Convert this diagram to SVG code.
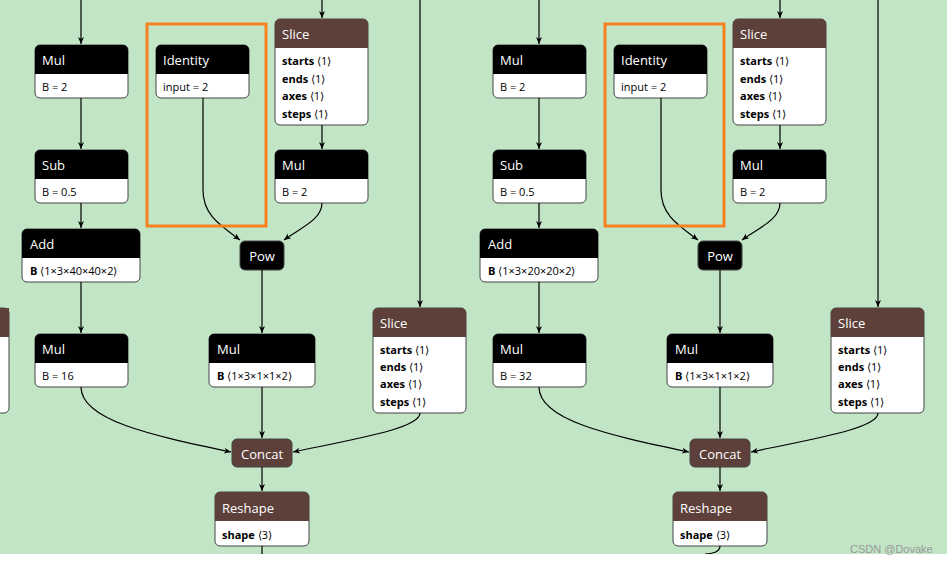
<svg xmlns="http://www.w3.org/2000/svg" width="947" height="563" viewBox="0 0 947 563">
<style>
.hd{fill:#000}.br{fill:#5c4039}.bd{fill:#fff;stroke:#444;stroke-width:1}
.t{font-family:"Segoe UI","Open Sans","Liberation Sans",sans-serif;font-size:13px;fill:#fff}
.a{font-family:"Segoe UI","Open Sans","Liberation Sans",sans-serif;font-size:11px;fill:#000}
.b{font-weight:bold}
.e{fill:none;stroke:#000;stroke-width:1.2;marker-end:url(#ar)}
.o{fill:none;stroke:#f5821f;stroke-width:3}
</style>
<defs>
<marker id="ar" markerWidth="8" markerHeight="8" refX="7" refY="4" orient="auto" markerUnits="userSpaceOnUse"><path d="M0,1 L7,4 L0,7 L2,4 Z" fill="#000"/></marker>
<g id="half">
<g id="mul1"><rect x="35" y="45" width="93" height="53" rx="5" class="bd"/><path d="M35,74V50a5,5 0 0 1 5,-5h83a5,5 0 0 1 5,5v24z" class="hd"/><text x="42" y="65" class="t">Mul</text><text x="42" y="91" class="a">B = 2</text></g>
<g id="sub"><rect x="35" y="150" width="93" height="53" rx="5" class="bd"/><path d="M35,179V155a5,5 0 0 1 5,-5h83a5,5 0 0 1 5,5v24z" class="hd"/><text x="42" y="170" class="t">Sub</text><text x="42" y="196" class="a">B = 0.5</text></g>
<g id="add"><rect x="22" y="229" width="118" height="53" rx="5" class="bd"/><path d="M22,258V234a5,5 0 0 1 5,-5h108a5,5 0 0 1 5,5v24z" class="hd"/><text x="30" y="249" class="t">Add</text></g>
<g id="mul3"><rect x="35" y="334" width="93" height="53" rx="5" class="bd"/><path d="M35,363V339a5,5 0 0 1 5,-5h83a5,5 0 0 1 5,5v24z" class="hd"/><text x="42" y="354" class="t">Mul</text></g>
<g id="ident"><rect x="156" y="45" width="93" height="53" rx="5" class="bd"/><path d="M156,74V50a5,5 0 0 1 5,-5h83a5,5 0 0 1 5,5v24z" class="hd"/><text x="163" y="65" class="t">Identity</text><text x="163" y="91" class="a" fill="#333">input = 2</text></g>
<g id="slice1"><rect x="275" y="19" width="93" height="106" rx="5" class="bd"/><path d="M275,48V24a5,5 0 0 1 5,-5h83a5,5 0 0 1 5,5v24z" class="br"/><text x="282" y="39" class="t">Slice</text>
<text x="282" y="65" class="a"><tspan class="b">starts</tspan> ⟨1⟩</text><text x="282" y="83" class="a"><tspan class="b">ends</tspan> ⟨1⟩</text><text x="282" y="100" class="a"><tspan class="b">axes</tspan> ⟨1⟩</text><text x="282" y="118" class="a"><tspan class="b">steps</tspan> ⟨1⟩</text></g>
<g id="mul2"><rect x="275" y="150" width="93" height="53" rx="5" class="bd"/><path d="M275,179V155a5,5 0 0 1 5,-5h83a5,5 0 0 1 5,5v24z" class="hd"/><text x="282" y="170" class="t">Mul</text><text x="282" y="196" class="a">B = 2</text></g>
<g id="pow"><rect x="240" y="241" width="44" height="29" rx="5" class="hd" stroke="#444"/><text x="262" y="261" class="t" text-anchor="middle">Pow</text></g>
<g id="mul4"><rect x="209" y="334" width="106" height="53" rx="5" class="bd"/><path d="M209,363V339a5,5 0 0 1 5,-5h96a5,5 0 0 1 5,5v24z" class="hd"/><text x="217" y="354" class="t">Mul</text><text x="217" y="380" class="a"><tspan class="b">B</tspan> ⟨1×3×1×1×2⟩</text></g>
<g id="slice2"><rect x="373" y="308" width="93" height="105" rx="5" class="bd"/><path d="M373,337V313a5,5 0 0 1 5,-5h83a5,5 0 0 1 5,5v24z" class="br"/><text x="380" y="328" class="t">Slice</text>
<text x="380" y="354" class="a"><tspan class="b">starts</tspan> ⟨1⟩</text><text x="380" y="371" class="a"><tspan class="b">ends</tspan> ⟨1⟩</text><text x="380" y="388" class="a"><tspan class="b">axes</tspan> ⟨1⟩</text><text x="380" y="406" class="a"><tspan class="b">steps</tspan> ⟨1⟩</text></g>
<g id="concat"><rect x="232" y="439" width="60" height="28" rx="5" class="br" stroke="#444"/><text x="262" y="459" class="t" text-anchor="middle">Concat</text></g>
<g id="reshape"><rect x="215" y="492" width="94" height="54" rx="5" class="bd"/><path d="M215,521V497a5,5 0 0 1 5,-5h84a5,5 0 0 1 5,5v24z" class="br"/><text x="222" y="513" class="t">Reshape</text><text x="222" y="539" class="a"><tspan class="b">shape</tspan> ⟨3⟩</text></g>
<g id="edges">
<path d="M81,0V44" class="e"/><path d="M81,98V149" class="e"/><path d="M81,203V228" class="e"/><path d="M81,282V333" class="e"/>
<path d="M322,0V18" class="e"/><path d="M322,125V149" class="e"/><path d="M420,0V307" class="e"/>
<path d="M203,98V190C203,215 220,225 240,240" class="e"/><path d="M322,203C322,220 300,228 284,240" class="e"/>
<path d="M262,270V333" class="e"/><path d="M262,387V438" class="e"/>
<path d="M81,387C81,420 150,435 231,452" class="e"/><path d="M420,413C420,428 360,438 293,452" class="e"/>
<path d="M262,467V491" class="e"/>
</g>
<rect x="147" y="24" width="119" height="202" class="o"/>
</g>
</defs>
<rect width="947" height="563" fill="#c2e5c6"/>
<g id="left-partial"><rect x="-10" y="308" width="19" height="105" rx="5" class="bd"/><rect x="-10" y="308" width="19" height="29" class="br"/></g>
<g id="leftHalf"><use href="#half"/>
<text x="30" y="275" class="a"><tspan class="b">B</tspan> ⟨1×3×40×40×2⟩</text><text x="42" y="380" class="a">B = 16</text>
<path d="M262,546V554" stroke="#000" stroke-width="1.2"/></g>
<g id="rightHalf"><use href="#half" transform="translate(458,0)"/>
<text x="488" y="275" class="a"><tspan class="b">B</tspan> ⟨1×3×20×20×2⟩</text><text x="500" y="380" class="a">B = 32</text>
<path d="M720,546C720,552 712,554 705,554" fill="none" stroke="#000" stroke-width="1.2"/></g>
<rect x="0" y="554" width="947" height="9" fill="#fff"/>
<text x="850" y="553" font-family="'Liberation Sans',sans-serif" font-size="11" fill="#999">CSDN @Dovake</text>
</svg>
